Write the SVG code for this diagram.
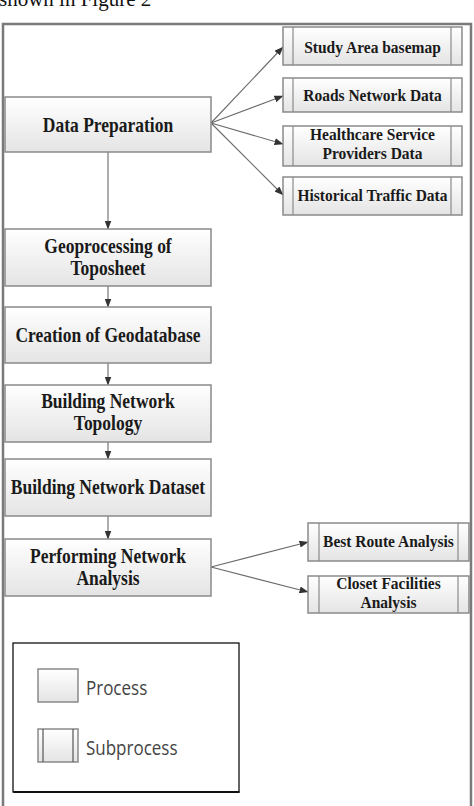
<svg xmlns="http://www.w3.org/2000/svg" width="474" height="806" viewBox="0 0 474 806">
<defs>
<linearGradient id="g" x1="0" y1="0" x2="0" y2="1">
<stop offset="0" stop-color="#ffffff"/>
<stop offset="1" stop-color="#e4e4e4"/>
</linearGradient>
<marker id="ah" markerWidth="9" markerHeight="7" refX="8.5" refY="3.5" orient="auto" markerUnits="userSpaceOnUse">
<path d="M0,0 L9,3.5 L0,7 Z" fill="#333"/>
</marker>
<style>
.box{fill:url(#g);stroke:#8a8a8a;stroke-width:1.5}
.sl{stroke:#8a8a8a;stroke-width:1.2}
.t,.s,.lg{transform-box:fill-box;transform-origin:center;transform:scaleY(1.14)}
.t{font-family:"Liberation Serif","Times New Roman",serif;font-weight:bold;font-size:17.5px;fill:#1a1a1a;text-anchor:middle}
.s{font-family:"Liberation Serif","Times New Roman",serif;font-weight:bold;font-size:15.5px;fill:#1a1a1a;text-anchor:middle}
.c{stroke:#6a6a6a;stroke-width:1.1;fill:none;marker-end:url(#ah)}
.lg{font-family:"Open Sans","DejaVu Sans",sans-serif;font-size:17px;fill:#444}
</style>
</defs>
<rect width="474" height="806" fill="#ffffff"/>
<text x="-1" y="6" font-family="Liberation Serif, Times New Roman, serif" font-size="21" fill="#111">shown in Figure 2</text>
<path d="M3,810 L3,24 L471,24 L471,810" fill="none" stroke="#7a7a7a" stroke-width="2.5"/>

<g id="connectors">
<line class="c" x1="108" y1="152" x2="108" y2="229"/>
<line class="c" x1="108" y1="286" x2="108" y2="307"/>
<line class="c" x1="108" y1="363" x2="108" y2="385"/>
<line class="c" x1="108" y1="442" x2="108" y2="459"/>
<line class="c" x1="108" y1="516" x2="108" y2="539"/>
<line class="c" x1="211" y1="123" x2="283" y2="47"/>
<line class="c" x1="211" y1="123" x2="283" y2="96"/>
<line class="c" x1="211" y1="123" x2="283" y2="144"/>
<line class="c" x1="211" y1="123" x2="283" y2="195"/>
<line class="c" x1="211" y1="567" x2="308" y2="542"/>
<line class="c" x1="211" y1="567" x2="308" y2="592"/>
</g>

<g id="data-preparation">
<rect class="box" x="5" y="97" width="206" height="55"/>
<text class="t" x="108" y="131">Data Preparation</text>
</g>
<g id="geoprocessing">
<rect class="box" x="5" y="229" width="206" height="57"/>
<text class="t" x="108" y="252">Geoprocessing of</text>
<text class="t" x="108" y="274">Toposheet</text>
</g>
<g id="creation-geodatabase">
<rect class="box" x="5" y="307" width="206" height="56"/>
<text class="t" x="108" y="341">Creation of Geodatabase</text>
</g>
<g id="building-topology">
<rect class="box" x="5" y="385" width="206" height="57"/>
<text class="t" x="108" y="407">Building Network</text>
<text class="t" x="108" y="429">Topology</text>
</g>
<g id="building-dataset">
<rect class="box" x="5" y="459" width="206" height="57"/>
<text class="t" x="108" y="493">Building Network Dataset</text>
</g>
<g id="performing-analysis">
<rect class="box" x="5" y="539" width="206" height="57"/>
<text class="t" x="108" y="562">Performing Network</text>
<text class="t" x="108" y="584">Analysis</text>
</g>

<g id="study-area">
<rect class="box" x="283" y="27" width="179" height="38"/>
<line class="sl" x1="293" y1="27" x2="293" y2="65"/>
<line class="sl" x1="451" y1="27" x2="451" y2="65"/>
<text class="s" x="372.5" y="52">Study Area basemap</text>
</g>
<g id="roads-network">
<rect class="box" x="283" y="78" width="179" height="34"/>
<line class="sl" x1="293" y1="78" x2="293" y2="112"/>
<line class="sl" x1="451" y1="78" x2="451" y2="112"/>
<text class="s" x="372.5" y="100">Roads Network Data</text>
</g>
<g id="healthcare">
<rect class="box" x="283" y="126" width="179" height="40"/>
<line class="sl" x1="293" y1="126" x2="293" y2="166"/>
<line class="sl" x1="451" y1="126" x2="451" y2="166"/>
<text class="s" x="372.5" y="139">Healthcare Service</text>
<text class="s" x="372.5" y="158">Providers Data</text>
</g>
<g id="historical-traffic">
<rect class="box" x="283" y="177" width="179" height="38"/>
<line class="sl" x1="293" y1="177" x2="293" y2="215"/>
<line class="sl" x1="451" y1="177" x2="451" y2="215"/>
<text class="s" x="372.5" y="200">Historical Traffic Data</text>
</g>
<g id="best-route">
<rect class="box" x="308" y="523" width="161" height="38"/>
<line class="sl" x1="319" y1="523" x2="319" y2="561"/>
<line class="sl" x1="458" y1="523" x2="458" y2="561"/>
<text class="s" x="388.5" y="546">Best Route Analysis</text>
</g>
<g id="closet-facilities">
<rect class="box" x="308" y="576" width="161" height="37"/>
<line class="sl" x1="319" y1="576" x2="319" y2="613"/>
<line class="sl" x1="458" y1="576" x2="458" y2="613"/>
<text class="s" x="388.5" y="588">Closet Facilities</text>
<text class="s" x="388.5" y="607">Analysis</text>
</g>

<g id="legend">
<rect x="13" y="643" width="226" height="149" fill="#ffffff" stroke="#111" stroke-width="1.3"/>
<line x1="13.5" y1="792" x2="239.5" y2="792" stroke="#111" stroke-width="2"/>
<rect class="box" x="38" y="669" width="40" height="33" stroke="#555" stroke-width="1.2"/>
<text class="lg" x="86" y="694">Process</text>
<rect class="box" x="38" y="729" width="40" height="33" stroke="#555" stroke-width="1.2"/>
<line x1="43" y1="729" x2="43" y2="762" stroke="#555" stroke-width="1.2"/>
<line x1="73" y1="729" x2="73" y2="762" stroke="#555" stroke-width="1.2"/>
<text class="lg" x="86" y="754">Subprocess</text>
</g>
</svg>
